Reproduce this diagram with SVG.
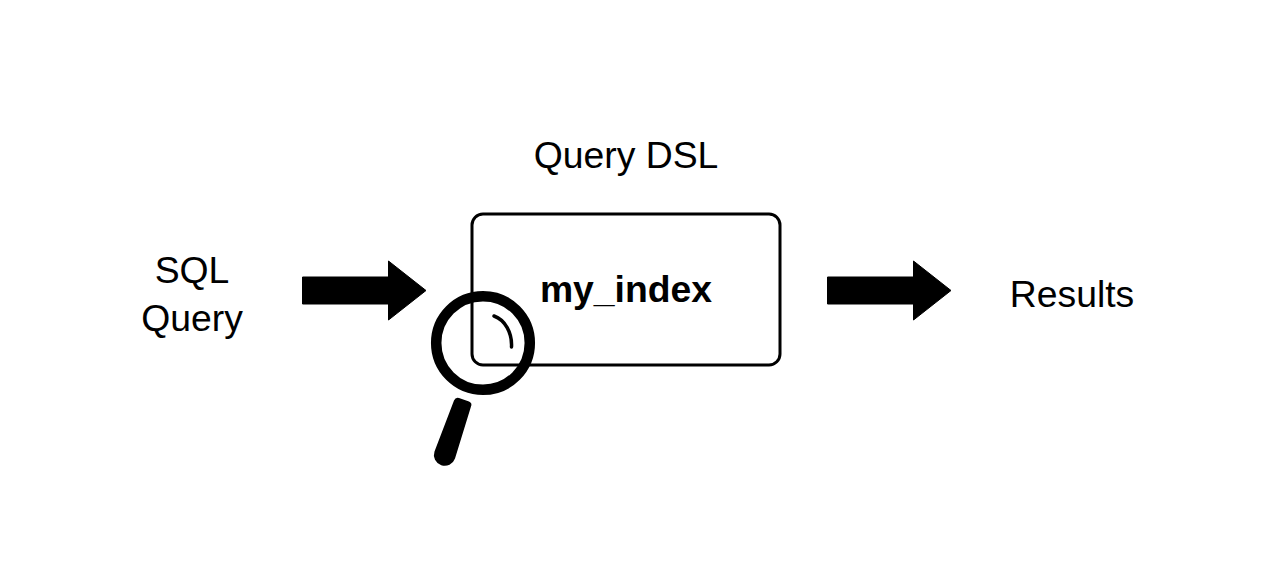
<svg xmlns="http://www.w3.org/2000/svg" width="1288" height="588" viewBox="0 0 1288 588">
<style>
text{font-family:"Liberation Sans",Arial,sans-serif;font-size:37.33px;fill:#000;text-anchor:middle}
.b{font-weight:bold}
.arrow{fill:#000;stroke:#000;stroke-width:1}
</style>
<rect width="1288" height="588" fill="#fff"/>
<g id="connectors">
<path class="arrow" d="M302.500 277H388.500V261L426 290.500L388.500 320V304H302.500Z"/>
<path class="arrow" d="M827.500 277H913.500V261L951 290.500L913.500 320V304H827.500Z"/>
</g>
<g id="sql"><text x="192" y="283">SQL</text><text x="192" y="331">Query</text></g>
<g id="dsl"><text x="626" y="168">Query DSL</text></g>
<g id="index"><rect x="472" y="214" width="308" height="151" rx="11" fill="#fff" stroke="#000" stroke-width="3"/><text class="b" x="626" y="302">my_index</text></g>
<g id="results"><text x="1072" y="307">Results</text></g>
<g id="magnifier">
<circle cx="483" cy="343" r="46.800" fill="none" stroke="#000" stroke-width="10.500"/>
<path d="M494 316A24 30 0 0 1 511.500 347" fill="none" stroke="#000" stroke-width="3.500" stroke-linecap="round"/>
<path d="M454 400.500Q455.500 397 459 398L469 401.500Q472.500 403 471 406.500L455 458.500A10.500 10.500 0 0 1 434.500 451.500Z" fill="#000"/>
</g>
</svg>
